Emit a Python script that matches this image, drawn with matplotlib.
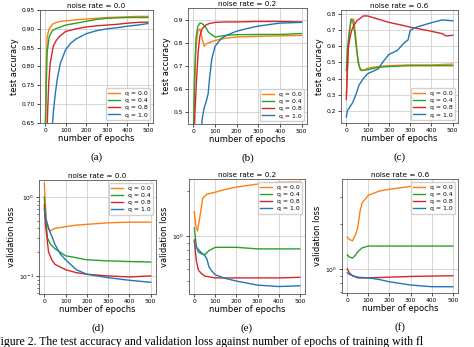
import numpy as np
import matplotlib
matplotlib.use("Agg")
import matplotlib.pyplot as plt
from matplotlib.ticker import NullFormatter, FormatStrFormatter

W, H = 474, 347

labels = ["q = 0.0", "q = 0.4", "q = 0.8", "q = 1.0"]
colors = ["#ff7f0e", "#2ca02c", "#d62728", "#1f77b4"]

# test accuracy, noise rate 0.0
a_ep = [[0, 5, 10, 20, 35, 50, 75, 100, 150, 200, 250, 300, 350, 400, 450, 500],
        [0, 5, 10, 20, 35, 50, 75, 100, 150, 200, 250, 300, 350, 400, 450, 500],
        [8, 12, 18, 25, 40, 55, 70, 100, 150, 200, 250, 300, 350, 400, 450, 500],
        [33, 40, 50, 60, 75, 100, 125, 150, 200, 250, 300, 350, 400, 450, 500]]
a_val = [[0.60, 0.80, 0.88, 0.90, 0.912, 0.916, 0.92, 0.921, 0.924, 0.926, 0.928, 0.93, 0.931, 0.932, 0.933, 0.933],
         [0.60, 0.74, 0.84, 0.88, 0.895, 0.90, 0.905, 0.91, 0.915, 0.92, 0.925, 0.928, 0.929, 0.93, 0.93, 0.93],
         [0.60, 0.68, 0.76, 0.81, 0.855, 0.87, 0.88, 0.893, 0.90, 0.905, 0.908, 0.91, 0.912, 0.915, 0.917, 0.918],
         [0.62, 0.68, 0.73, 0.77, 0.81, 0.845, 0.862, 0.873, 0.887, 0.895, 0.90, 0.903, 0.907, 0.91, 0.914]]

# test accuracy, noise rate 0.2
b_ep = [[0, 5, 12, 20, 30, 40, 50, 60, 70, 100, 150, 200, 300, 400, 500],
        [0, 5, 12, 20, 30, 40, 55, 70, 85, 100, 150, 200, 300, 400, 500],
        [3, 8, 15, 22, 30, 40, 55, 70, 100, 150, 200, 300, 400, 500],
        [35, 42, 50, 60, 68, 75, 85, 100, 130, 160, 200, 250, 300, 400, 500]]
b_val = [[0.40, 0.60, 0.78, 0.85, 0.86, 0.82, 0.785, 0.795, 0.80, 0.81, 0.82, 0.825, 0.828, 0.83, 0.832],
         [0.40, 0.65, 0.82, 0.87, 0.885, 0.883, 0.87, 0.845, 0.835, 0.825, 0.832, 0.835, 0.836, 0.836, 0.84],
         [0.40, 0.52, 0.65, 0.76, 0.83, 0.86, 0.875, 0.882, 0.888, 0.89, 0.89, 0.892, 0.892, 0.89],
         [0.42, 0.48, 0.52, 0.55, 0.58, 0.65, 0.73, 0.785, 0.82, 0.835, 0.85, 0.862, 0.872, 0.885, 0.888]]

# test accuracy, noise rate 0.6
c_ep = [[0, 5, 10, 18, 25, 35, 45, 55, 65, 80, 100, 150, 200, 300, 400, 500],
        [0, 5, 12, 22, 30, 40, 50, 60, 70, 100, 150, 200, 300, 400, 500],
        [0, 5, 10, 18, 25, 35, 50, 65, 80, 100, 150, 200, 270, 300, 380, 450, 470, 500],
        [0, 5, 20, 30, 45, 60, 80, 100, 150, 170, 200, 240, 270, 290, 300, 330, 380, 420, 450, 500]]
c_val = [[0.30, 0.45, 0.60, 0.72, 0.77, 0.77, 0.65, 0.50, 0.455, 0.45, 0.465, 0.475, 0.48, 0.485, 0.485, 0.49],
         [0.45, 0.58, 0.67, 0.77, 0.76, 0.68, 0.56, 0.48, 0.45, 0.455, 0.47, 0.475, 0.48, 0.48, 0.48],
         [0.27, 0.45, 0.60, 0.66, 0.70, 0.73, 0.76, 0.775, 0.79, 0.79, 0.77, 0.75, 0.73, 0.72, 0.70, 0.68, 0.665, 0.67],
         [0.16, 0.20, 0.23, 0.25, 0.30, 0.36, 0.40, 0.43, 0.46, 0.50, 0.55, 0.575, 0.62, 0.64, 0.70, 0.72, 0.74, 0.755, 0.765, 0.76]]

# validation loss, noise rate 0.0
d_ep = [[0, 5, 10, 25, 50, 100, 150, 200, 250, 300, 400, 500],
        [0, 5, 15, 30, 50, 100, 150, 200, 300, 400, 500],
        [0, 5, 20, 35, 50, 100, 150, 200, 300, 400, 500],
        [0, 5, 20, 35, 50, 75, 100, 150, 200, 300, 400, 500]]
d_val = [[1.5, 0.8, 0.5, 0.37, 0.40, 0.42, 0.44, 0.45, 0.46, 0.47, 0.48, 0.48],
         [1.0, 0.6, 0.30, 0.25, 0.22, 0.18, 0.17, 0.16, 0.155, 0.152, 0.15],
         [0.8, 0.45, 0.20, 0.16, 0.14, 0.12, 0.11, 0.105, 0.10, 0.097, 0.10],
         [0.7, 0.55, 0.40, 0.32, 0.25, 0.19, 0.16, 0.12, 0.105, 0.095, 0.088, 0.083]]

# validation loss, noise rate 0.2
e_ep = [[0, 8, 15, 25, 40, 60, 100, 150, 200, 300, 400, 500],
        [0, 10, 20, 35, 50, 70, 100, 200, 300, 400, 500],
        [0, 10, 20, 35, 50, 100, 200, 300, 400, 500],
        [0, 10, 20, 35, 50, 60, 70, 85, 100, 150, 200, 300, 400, 500]]
e_val = [[1.45, 1.15, 1.08, 1.3, 1.79, 1.9, 1.96, 2.05, 2.12, 2.22, 2.28, 2.29],
         [1.13, 0.85, 0.78, 0.76, 0.75, 0.80, 0.84, 0.84, 0.82, 0.82, 0.82],
         [0.94, 0.68, 0.59, 0.56, 0.54, 0.525, 0.525, 0.525, 0.525, 0.53],
         [0.91, 0.84, 0.81, 0.77, 0.74, 0.70, 0.62, 0.58, 0.55, 0.52, 0.50, 0.47, 0.46, 0.465]]

# validation loss, noise rate 0.6
f_ep = [[0, 10, 25, 40, 50, 60, 70, 100, 150, 200, 300, 400, 500],
        [0, 10, 25, 40, 50, 70, 100, 200, 300, 400, 500],
        [0, 10, 25, 50, 100, 200, 300, 400, 500],
        [0, 10, 25, 50, 100, 150, 200, 300, 400, 500]]
f_val = [[1.63, 1.57, 1.54, 1.7, 1.9, 2.4, 2.75, 3.1, 3.3, 3.4, 3.55, 3.6, 3.6],
         [1.24, 1.2, 1.18, 1.24, 1.3, 1.38, 1.42, 1.42, 1.42, 1.42, 1.42],
         [1.0, 0.94, 0.9, 0.87, 0.87, 0.88, 0.89, 0.895, 0.90],
         [0.94, 0.92, 0.9, 0.88, 0.87, 0.85, 0.82, 0.78, 0.76, 0.76]]

panels = [
    # (epochs, values, title, ylabel, rect in px, ylim, log, legend loc, caption)
    (a_ep, a_val, "noise rate = 0.0", "test accuracy", (40, 10, 153, 123), (0.65, 0.95), False, "lower right", "(a)"),
    (b_ep, b_val, "noise rate = 0.2", "test accuracy", (188, 8, 307, 124), (0.45, 0.95), False, "lower right", "(b)"),
    (c_ep, c_val, "noise rate = 0.6", "test accuracy", (341, 10, 458, 123), (0.123, 0.827), False, "lower right", "(c)"),
    (d_ep, d_val, "noise rate = 0.0", "validation loss", (39, 180, 156, 294), (0.059, 1.64), True, "upper right", "(d)"),
    (e_ep, e_val, "noise rate = 0.2", "validation loss", (189, 179, 305, 294), (0.41, 2.4), True, "upper right", "(e)"),
    (f_ep, f_val, "noise rate = 0.6", "validation loss", (342, 179, 458, 293), (0.69, 3.98), True, "upper right", "(f)"),
]

fig = plt.figure(figsize=(W / 100, H / 100), dpi=100)

for i, (ep, val, title, ylab, (x0, y0, x1, y1), ylim, logy, loc, cap) in enumerate(panels):
    ax = fig.add_axes([x0 / W, 1 - y1 / H, (x1 - x0) / W, (y1 - y0) / H])
    for xs, ys, lab, col in zip(ep, val, labels, colors):
        ax.plot(xs, ys, color=col, lw=1.0, label=lab)
    if logy:
        ax.set_yscale("log")
        ax.yaxis.set_minor_formatter(NullFormatter())
    ax.set_xlim(-25, 525)
    ax.set_ylim(*ylim)
    ax.set_xticks([0, 100, 200, 300, 400, 500])
    if i == 0:
        ax.yaxis.set_major_formatter(FormatStrFormatter("%.2f"))
    ax.grid(True, color="#d0d0d0", lw=0.6)
    ax.tick_params(labelsize=4.3, length=2, width=0.5, pad=1.5)
    ax.tick_params(which="minor", length=1.2, width=0.4)
    for s in ax.spines.values():
        s.set_linewidth(0.6)
        s.set_color("#555555")
    ax.set_title(title, fontsize=5.2, pad=1.5)
    ax.set_xlabel("number of epochs", fontsize=6, labelpad=1)
    ax.set_ylabel(ylab, fontsize=6, labelpad=2)
    ax.legend(loc=loc, fontsize=4.4, handlelength=2.0, handletextpad=0.7,
              borderpad=0.4, labelspacing=0.3, framealpha=0.9)
    cx = (x0 + x1) / 2 / W
    cy = 1 - (y1 + 34) / H
    fig.text(cx, cy, cap, ha="center", va="center", fontsize=8, family="Liberation Serif")

fig.text(-0.012, 1 - 336 / H,
         "Figure 2. The test accuracy and validation loss against number of epochs of training with fl",
         ha="left", va="top", fontsize=8.5, family="Liberation Serif")

fig.savefig("out.png", dpi=100)
